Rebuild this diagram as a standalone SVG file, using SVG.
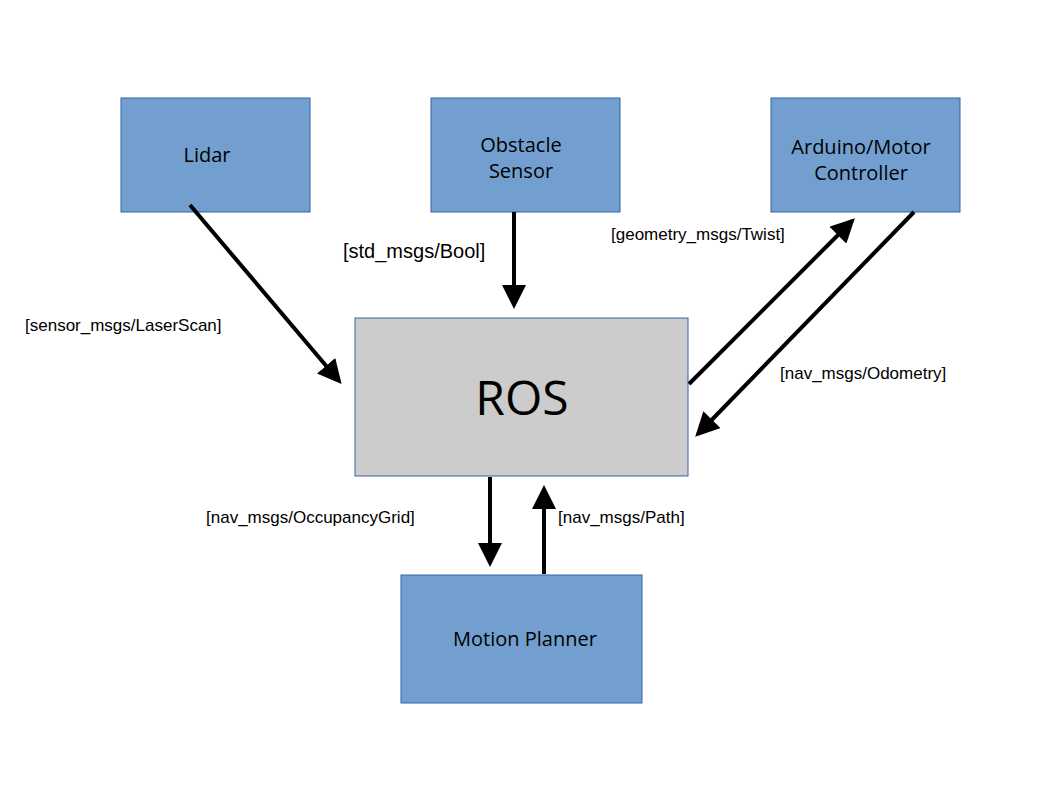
<svg xmlns="http://www.w3.org/2000/svg" width="1058" height="794" viewBox="0 0 1058 794">
<style>
.n{fill:#729fcf;stroke:#3465a4;stroke-width:1}
.t{font-family:"Open Sans","DejaVu Sans",sans-serif;font-size:20px;fill:#000;text-anchor:middle}
.l{font-family:"Liberation Sans",Arial,sans-serif;font-size:17px;fill:#000}
.c line{stroke:#000;stroke-width:4;marker-end:url(#a)}
</style>
<defs><marker id="a" markerWidth="6" markerHeight="6" refX="5" refY="3" orient="auto" markerUnits="strokeWidth"><path d="M0,0 L6,3 L0,6 z" fill="#000"/></marker></defs>
<rect width="1058" height="794" fill="#fff"/>
<g id="lidar"><rect class="n" x="121" y="98" width="189" height="114"/><text class="t" x="207" y="162">Lidar</text></g>
<g id="obstacle"><rect class="n" x="431" y="98" width="189" height="114"/><text class="t" x="521" y="152">Obstacle</text><text class="t" x="521" y="178">Sensor</text></g>
<g id="arduino"><rect class="n" x="771" y="98" width="189" height="114"/><text class="t" x="861" y="154">Arduino/Motor</text><text class="t" x="861" y="180">Controller</text></g>
<g id="ros"><rect x="355" y="318" width="333" height="158" fill="#cccccc" stroke="#3465a4"/><text class="t" x="522" y="415" style="font-size:48px">ROS</text></g>
<g id="planner"><rect class="n" x="401" y="575" width="241" height="128"/><text class="t" x="525" y="646">Motion Planner</text></g>
<g class="c">
<line x1="190" y1="205" x2="339" y2="381"/>
<line x1="514" y1="212" x2="514" y2="305"/>
<line x1="689" y1="384" x2="852" y2="221"/>
<line x1="914" y1="212" x2="698" y2="434"/>
<line x1="490" y1="477" x2="490" y2="563"/>
<line x1="544" y1="574" x2="544" y2="489"/>
</g>
<g>
<text class="l" x="25" y="331">[sensor_msgs/LaserScan]</text>
<text class="l" x="343" y="258" style="font-size:20px">[std_msgs/Bool]</text>
<text class="l" x="611" y="240">[geometry_msgs/Twist]</text>
<text class="l" x="780" y="379">[nav_msgs/Odometry]</text>
<text class="l" x="206" y="523">[nav_msgs/OccupancyGrid]</text>
<text class="l" x="558" y="523">[nav_msgs/Path]</text>
</g>
</svg>
